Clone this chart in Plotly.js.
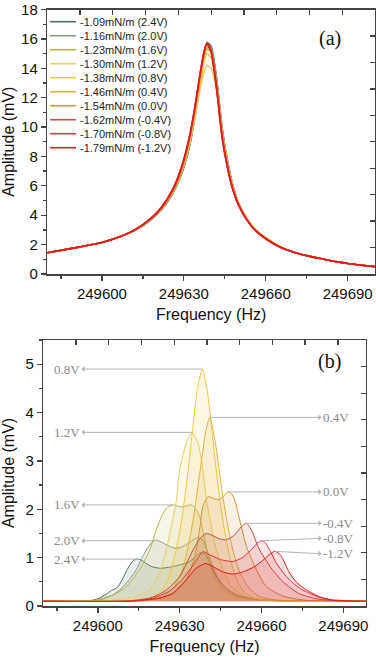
<!DOCTYPE html>
<html><head><meta charset="utf-8">
<script src="https://cdn.plot.ly/plotly-3.0.1.min.js"></script>
<style>html,body{margin:0;padding:0;background:#fff;}#chart{width:376px;height:661px;}</style>
</head><body><div id="chart"></div>
<script>
// ---------- DATA ----------
const voltages = ['2.4V','2.0V','1.6V','1.2V','0.8V','0.4V','0.0V','-0.4V','-0.8V','-1.2V'];
const tensions = ['-1.09mN/m','-1.16mN/m','-1.23mN/m','-1.30mN/m','-1.38mN/m','-1.46mN/m','-1.54mN/m','-1.62mN/m','-1.70mN/m','-1.79mN/m'];

// Panel (a): frequency (Hz) and amplitude (mV)
const freqA = [249580,249590,249600,249606,249612,249618,249622,249626,249629,249632,249634,249636,249637.5,249638.5,249640,249642,249644,249646,249648,249650,249653,249656,249660,249665,249670,249675,249680,249685,249690,249695,249700];
const ampA_p24 = [1.45,1.78,2.15,2.5,2.95,3.7,4.4,5.5,6.7,8.6,10.6,13.0,14.9,15.75,15.5,13.3,10.0,7.7,6.0,4.85,3.8,3.05,2.45,1.88,1.5,1.25,1.05,0.87,0.72,0.6,0.5];
const ampA_p20 = [1.45,1.78,2.15,2.5,2.95,3.7,4.45,5.5,6.8,8.7,10.7,13.1,14.9,15.65,15.4,13.2,9.9,7.7,5.95,4.85,3.8,3.05,2.45,1.88,1.5,1.25,1.05,0.87,0.72,0.6,0.5];
const ampA_p16 = [1.45,1.78,2.15,2.5,2.95,3.7,4.45,5.55,6.8,8.8,10.8,13.1,14.7,15.3,15.1,13.1,9.8,7.6,5.9,4.8,3.8,3.05,2.45,1.88,1.5,1.25,1.05,0.87,0.72,0.6,0.5];
const ampA_p12 = [1.45,1.78,2.15,2.5,3.0,3.75,4.5,5.6,6.9,8.8,10.6,12.6,13.8,14.2,14.0,12.5,9.6,7.5,5.9,4.8,3.8,3.05,2.45,1.88,1.5,1.25,1.05,0.87,0.72,0.6,0.5];
const ampA_p08 = [1.45,1.78,2.15,2.5,3.0,3.75,4.5,5.6,6.9,8.9,10.9,13.0,14.5,15.0,14.7,12.8,9.6,7.5,5.85,4.75,3.75,3.05,2.45,1.88,1.5,1.25,1.05,0.87,0.72,0.6,0.5];
const ampA_p04 = [1.45,1.78,2.15,2.5,3.0,3.75,4.5,5.6,6.9,9.0,11.0,13.3,14.9,15.5,15.1,12.9,9.6,7.5,5.85,4.75,3.75,3.05,2.45,1.88,1.5,1.25,1.05,0.87,0.72,0.6,0.5];
const ampA_p00 = [1.45,1.78,2.15,2.5,3.0,3.75,4.5,5.65,7.0,9.1,11.1,13.5,15.1,15.65,15.2,12.9,9.5,7.4,5.8,4.75,3.75,3.0,2.4,1.85,1.5,1.25,1.05,0.87,0.72,0.6,0.5];
const ampA_m04 = [1.45,1.78,2.15,2.5,3.0,3.75,4.55,5.7,7.1,9.2,11.2,13.6,15.2,15.7,15.2,12.8,9.4,7.3,5.75,4.7,3.7,3.0,2.4,1.85,1.5,1.25,1.05,0.87,0.72,0.6,0.5];
const ampA_m08 = [1.45,1.78,2.15,2.5,3.0,3.8,4.6,5.8,7.2,9.3,11.3,13.7,15.2,15.7,15.1,12.6,9.3,7.2,5.7,4.7,3.7,3.0,2.4,1.85,1.5,1.25,1.05,0.87,0.72,0.6,0.5];
const ampA_m12 = [1.45,1.78,2.15,2.5,3.0,3.8,4.6,5.8,7.2,9.3,11.3,13.7,15.2,15.7,15.1,12.6,9.3,7.2,5.7,4.7,3.7,3.0,2.4,1.85,1.5,1.25,1.05,0.87,0.72,0.6,0.5];

// Panel (b): one frequency / amplitude pair per voltage
const freqB_p24 = [249580,249592,249597,249600,249603,249605,249607,249609,249611,249613,249614.5,249616,249618,249620,249623,249626,249630,249633,249635.5,249637.5,249639.5,249641,249643,249645,249648,249652,249658,249666,249700];
const ampB_p24  = [0.1,0.1,0.11,0.15,0.24,0.32,0.38,0.55,0.78,0.94,0.97,0.95,0.87,0.81,0.78,0.8,0.85,0.9,1.0,1.1,1.06,0.9,0.66,0.48,0.32,0.2,0.14,0.11,0.1];
const freqB_p20 = [249580,249595,249600.5,249603,249605.5,249608,249610.4,249612.5,249614.1,249616,249617.8,249619.5,249621.2,249623,249626,249628.8,249631.5,249634,249636.7,249638.5,249640,249641.5,249643,249646,249650,249656,249665,249700];
const ampB_p20  = [0.1,0.1,0.12,0.17,0.23,0.33,0.47,0.62,0.75,0.97,1.16,1.3,1.36,1.33,1.24,1.19,1.24,1.33,1.42,1.36,1.15,0.92,0.7,0.42,0.25,0.15,0.11,0.1];
const freqB_p16 = [249580,249596,249600,249605.5,249608,249610.4,249613,249615.3,249617,249619,249621.4,249623.9,249625.5,249627.5,249630.6,249634.3,249635.8,249637.3,249639.2,249641,249643.4,249647,249652,249660,249700];
const ampB_p16  = [0.1,0.1,0.13,0.23,0.3,0.4,0.57,0.75,0.93,1.16,1.57,1.92,2.04,2.09,2.05,2.09,2.02,1.85,1.37,0.88,0.54,0.3,0.18,0.12,0.1];
const freqB_p12 = [249580,249600,249606,249614,249619,249622.6,249625.1,249626.9,249628.8,249630,249632.4,249634.5,249636.7,249638.5,249639.8,249641.6,249643.4,249645.9,249649,249654,249662,249700];
const ampB_p12  = [0.1,0.1,0.12,0.2,0.33,0.68,1.16,1.64,2.19,2.82,3.37,3.59,3.37,2.82,2.19,1.64,1.16,0.75,0.4,0.2,0.12,0.1];
const freqB_p08 = [249580,249605,249610,249618,249623,249626,249628.5,249630.5,249632,249633.5,249635,249636.5,249638.3,249640,249641.5,249643,249644.5,249646,249648,249650.5,249653.5,249658,249666,249700];
const ampB_p08  = [0.1,0.1,0.11,0.15,0.3,0.6,1.1,1.7,2.3,3.0,3.8,4.5,4.9,4.5,3.8,3.0,2.3,1.7,1.1,0.6,0.3,0.15,0.11,0.1];
const freqB_p04 = [249580,249610,249618,249624,249628,249631,249633,249635,249636.5,249638,249639.5,249641,249643,249644.5,249646,249647.5,249649.5,249652,249655,249659,249666,249700];
const ampB_p04  = [0.1,0.1,0.12,0.2,0.4,0.75,1.2,1.8,2.4,3.0,3.6,3.9,3.4,2.8,2.2,1.7,1.15,0.7,0.4,0.2,0.12,0.1];
const freqB_p00 = [249580,249612,249620,249627,249632.4,249635.5,249637.3,249638.5,249640.4,249642.5,249644.5,249646.5,249647.7,249649,249650.2,249652,249654.5,249658.1,249661.8,249668,249676,249700];
const ampB_p00  = [0.1,0.1,0.13,0.25,0.54,1.02,1.57,2.06,2.26,2.22,2.2,2.3,2.36,2.32,2.19,1.78,1.23,0.75,0.4,0.2,0.12,0.1];
const freqB_m04 = [249580,249612,249620,249625.1,249630,249634.9,249637.5,249639.8,249642,249644.5,249647.1,249650,249652.5,249654.5,249656.5,249658.7,249661,249664,249667,249670,249674,249680,249688,249700];
const ampB_m04  = [0.1,0.11,0.18,0.33,0.61,1.16,1.4,1.5,1.46,1.39,1.37,1.46,1.63,1.71,1.55,1.23,1.0,0.75,0.55,0.4,0.25,0.15,0.11,0.1];
const freqB_m08 = [249580,249612,249620,249626,249631,249635,249638.5,249641,249645,249649.5,249653,249656,249658.5,249660,249661.5,249663.5,249665.5,249668.5,249671.6,249674.5,249677.7,249681,249686,249695,249700];
const ampB_m08  = [0.1,0.1,0.16,0.3,0.55,0.85,1.12,1.06,0.96,0.92,1.0,1.15,1.3,1.35,1.3,1.1,0.88,0.65,0.47,0.35,0.26,0.18,0.13,0.1,0.1];
const freqB_m12 = [249580,249612,249618,249622.6,249627.5,249632.4,249636,249639.5,249642,249646,249649.5,249653,249657,249660,249663,249665,249667,249670.3,249673,249676.5,249681.4,249686,249695,249700];
const ampB_m12  = [0.1,0.1,0.13,0.16,0.26,0.54,0.78,0.88,0.82,0.7,0.66,0.7,0.8,0.92,1.07,1.13,1.05,0.68,0.48,0.33,0.19,0.12,0.1,0.1];

// Label anchor points in panel (b) (peak of each labelled curve) and label heights
const labelPeakF = [249614.5,249620.8,249627.5,249634.5,249638.3,249641,249647.7,249654.5,249660,249665];
const labelPeakA = [0.97,1.35,2.09,3.59,4.9,3.9,2.36,1.71,1.35,1.13];
const labelTextA = [0.97,1.35,2.09,3.59,4.9,3.9,2.36,1.71,1.40,1.08];

// ---------- STYLE / BUILD ----------
const colors = ['#4e7060','#8b9a84','#b4b44a','#e6cf6a','#efcb3a','#e0b23a','#d8923c','#c05048','#e63444','#e31b1b'];
function rgba(hex,a){const n=parseInt(hex.slice(1),16);return `rgba(${n>>16},${(n>>8)&255},${n&255},${a})`;}

const ampA = [ampA_p24,ampA_p20,ampA_p16,ampA_p12,ampA_p08,ampA_p04,ampA_p00,ampA_m04,ampA_m08,ampA_m12];
const freqB = [freqB_p24,freqB_p20,freqB_p16,freqB_p12,freqB_p08,freqB_p04,freqB_p00,freqB_m04,freqB_m08,freqB_m12];
const ampB = [ampB_p24,ampB_p20,ampB_p16,ampB_p12,ampB_p08,ampB_p04,ampB_p00,ampB_m04,ampB_m08,ampB_m12];

const W=376,H=661;
const px=v=>v/W, py=v=>1-v/H;
const traces=[];
ampA.forEach((a,i)=>traces.push({x:freqA,y:a,xaxis:'x',yaxis:'y',type:'scatter',mode:'lines',
  line:{color:colors[i],width:1.6,shape:'spline',smoothing:0.6},hoverinfo:'skip',showlegend:false}));
ampB.forEach((a,i)=>traces.push({x:freqB[i],y:a,xaxis:'x2',yaxis:'y2',type:'scatter',mode:'lines',
  fill:'toself',fillcolor:rgba(colors[i],0.13),
  line:{color:colors[i],width:1,shape:'spline',smoothing:0.6},hoverinfo:'skip',showlegend:false}));
// empty traces that host the mirrored top/right axes
traces.push({x:[null],y:[null],xaxis:'x3',yaxis:'y3',mode:'lines',hoverinfo:'skip',showlegend:false});
traces.push({x:[null],y:[null],xaxis:'x4',yaxis:'y4',mode:'lines',hoverinfo:'skip',showlegend:false});

const AX='#444';
const SANS='Liberation Sans, Arial, sans-serif';
const SERIF='Liberation Serif, Times New Roman, serif';
const tickFont={family:SANS,size:15,color:'#111'};
const titleFont={family:SANS,size:16,color:'#111'};
const base={showgrid:false,zeroline:false,showline:true,linecolor:AX,linewidth:1.5,ticks:'outside',ticklen:5,tickwidth:1.3,tickcolor:AX,tickfont:tickFont,automargin:false};
const xrA=[249580,249700], xrB=[249580,249698.2];

const layout={
  width:W,height:H,margin:{l:0,r:0,t:0,b:0},paper_bgcolor:'#fff',plot_bgcolor:'#fff',showlegend:false,
  font:{family:SANS},
  xaxis:Object.assign({},base,{domain:[px(47.3),px(375)],anchor:'y',range:xrA,tick0:249600,dtick:30,tickformat:'d',
    minor:{dtick:15,ticklen:3,tickcolor:AX,ticks:'outside'},title:{text:'Frequency (Hz)',font:titleFont,standoff:8}}),
  yaxis:Object.assign({},base,{domain:[py(274),py(9.5)],anchor:'x',range:[0,18],tick0:0,dtick:2,
    minor:{dtick:1,ticklen:3,tickcolor:AX,ticks:'outside'},title:{text:'Amplitude (mV)',font:titleFont,standoff:4}}),
  xaxis2:Object.assign({},base,{domain:[px(43.3),px(365.7)],anchor:'y2',range:xrB,tick0:249600,dtick:30,tickformat:'d',
    minor:{dtick:15,ticklen:3,tickcolor:AX,ticks:'outside'},title:{text:'Frequency (Hz)',font:titleFont,standoff:8}}),
  yaxis2:Object.assign({},base,{domain:[py(606),py(340)],anchor:'x2',range:[0,5.5],tick0:0,dtick:1,
    minor:{dtick:0.5,ticklen:3,tickcolor:AX,ticks:'outside'},title:{text:'Amplitude (mV)',font:titleFont,standoff:10}}),
  xaxis3:Object.assign({},base,{overlaying:'x',anchor:'y3',side:'top',range:xrA,tick0:249580,dtick:12,ticks:'inside',showticklabels:false}),
  yaxis3:Object.assign({},base,{overlaying:'y',anchor:'x3',side:'right',range:[0,18],tick0:0,dtick:1.8,ticks:'inside',showticklabels:false}),
  xaxis4:Object.assign({},base,{overlaying:'x2',anchor:'y4',side:'top',range:xrB,tick0:249580,dtick:12,ticks:'inside',showticklabels:false}),
  yaxis4:Object.assign({},base,{overlaying:'y2',anchor:'x4',side:'right',range:[0,5.5],tick0:0,dtick:0.55,ticks:'inside',showticklabels:false}),
  shapes:[],annotations:[]
};

// panel letters
layout.annotations.push({xref:'paper',yref:'paper',x:px(343),y:py(25),text:'(a)',showarrow:false,
  font:{family:SERIF,size:20,color:'#111'}});
layout.annotations.push({xref:'paper',yref:'paper',x:px(343),y:py(361),text:'(b)',showarrow:false,
  font:{family:SERIF,size:20,color:'#111'}});

// legend for panel (a), drawn by hand
voltages.forEach((v,i)=>{
  const yc=21.7+14*i;
  layout.shapes.push({type:'line',xref:'paper',yref:'paper',x0:px(50),x1:px(76),y0:py(yc),y1:py(yc),line:{color:colors[i],width:1.6}});
  layout.annotations.push({xref:'paper',yref:'paper',x:px(78),y:py(yc),xanchor:'left',yanchor:'middle',showarrow:false,
    text:`${tensions[i]} (${v})`,font:{family:SANS,size:11,color:'#222'}});
});

// voltage labels with arrows in panel (b)
voltages.forEach((v,i)=>{
  const left = i<=4;
  layout.annotations.push({xref:'x2',yref:'y2',x:labelPeakF[i],y:labelPeakA[i],
    axref:'x2',ayref:'y2',ax:left?249594:249682,ay:labelTextA[i],
    xanchor:left?'right':'left',yanchor:'middle',text:v,showarrow:true,arrowside:'start',
    arrowhead:2,arrowsize:1.6,arrowwidth:1,arrowcolor:'#b4b4b4',standoff:0,borderpad:0,
    font:{family:SERIF,size:13,color:'#8a8a8a'}});
});

Plotly.newPlot('chart',traces,layout,{staticPlot:true,displayModeBar:false});
</script></body></html>
